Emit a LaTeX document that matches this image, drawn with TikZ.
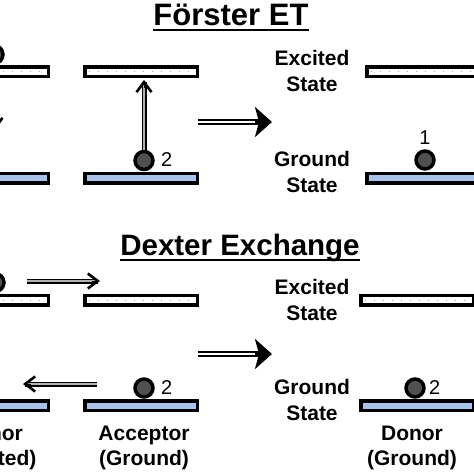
\documentclass[tikz,border=0pt]{standalone}
\usepackage{fontspec}
\setmainfont{Liberation Sans}
\usetikzlibrary{arrows.meta,calc}
\definecolor{gblue}{RGB}{168,194,234}
\definecolor{edark}{RGB}{80,80,80}
\newcommand\grayarrow[2]{%
  \draw[line width=5pt,shorten >=2pt] (#1) -- (#2);
  \draw[line width=2.2pt,gray!60,shorten >=2pt] (#1) -- (#2);
  \draw[line width=0.1pt,-{Straight Barb[length=10pt,width=15pt,line width=2.6pt]}] ($(#2)!8pt!(#1)$) -- (#2);}
\newcommand\bigarrow[2]{%
  \draw[line width=5.5pt,-{Stealth[length=17pt,width=30pt,inset=4pt]}] (#1) -- (#2);
  \draw[white,line width=1.6pt,shorten >=17pt] (#1) -- (#2);}
\begin{document}
\begin{tikzpicture}[x=1pt,y=-1pt,
  lvl/.style={draw=black,line width=3.5pt,minimum height=9.5pt,minimum width=112.5pt,inner sep=0pt,rectangle},
  exlvl/.style={lvl,fill=white},
  gdlvl/.style={lvl,fill=gblue},
  dots/.style={gray!70,line width=1pt,dash pattern=on 1pt off 8pt},
  elec/.style={circle,draw=black,line width=3.5pt,fill=edark,minimum size=18pt,inner sep=0pt},
  lab/.style={font=\bfseries\fontsize{21}{26}\selectfont,inner sep=0pt,anchor=base},
  num/.style={font=\fontsize{20}{22}\selectfont,inner sep=0pt,anchor=base},
  ttl/.style={font=\bfseries\fontsize{31}{34}\selectfont,inner sep=0pt,anchor=base},
  ttlb/.style={font=\bfseries\fontsize{29.5}{34}\selectfont,inner sep=0pt,anchor=base}]
\useasboundingbox (0,0) rectangle (474,474);
\clip (0,0) rectangle (474,474);

% ---------- Forster ET ----------
\node[ttl] (t1) at (231,25) {Förster ET};
\draw[line width=2.5pt] ($(t1.base west)+(0,5)$) -- ($(t1.base east)+(0,5)$);

\node[exlvl] (e0) at (-8,71.5) {};
\node[gdlvl] (g0) at (-8,178) {};
\node[exlvl] (e1) at (141,71.5) {};
\node[gdlvl] (g1) at (141,178) {};
\node[exlvl] (e2) at (423,71.5) {};
\node[gdlvl] (g2) at (423,178) {};
\foreach \n in {e0,e1,e2}{\draw[dots] ($(\n.west)+(6,0)$) -- ($(\n.east)+(-4,0)$);}

\node[elec] (c0) at (-6,54.5) {};
\node[elec] (c1) at (144,160.5) {};
\node[num,anchor=base west] (n1) at (161,166) {2};
\node[elec] (c2) at (425,160) {};
\node[num] (n2) at (425,144) {1};

\coordinate (d0a) at (-5,84);
\coordinate (d0b) at (-5,130);
\grayarrow{d0a}{d0b}
\coordinate (v1) at (144,80);
\grayarrow{c1.north}{v1}

\coordinate (fa1) at (198,122);
\coordinate (fa2) at (272,122);
\bigarrow{fa1}{fa2}

\node[lab] (x1) at (312,65) {Excited};
\node[lab] (x2) at (312,91.5) {State};
\node[lab] (x3) at (312,166) {Ground};
\node[lab] (x4) at (312,192) {State};

% ---------- Dexter Exchange ----------
\node[ttlb] (t2) at (240,255) {Dexter Exchange};
\draw[line width=2.5pt] ($(t2.base west)+(0,5)$) -- ($(t2.base east)+(0,5)$);

\node[exlvl] (e3) at (-8,300) {};
\node[gdlvl] (g3) at (-8,405.5) {};
\node[exlvl] (e4) at (141,300) {};
\node[gdlvl] (g4) at (141,405.5) {};
\node[exlvl] (e5) at (417,300) {};
\node[gdlvl] (g5) at (417,405.5) {};
\foreach \n in {e3,e4,e5}{\draw[dots] ($(\n.west)+(6,0)$) -- ($(\n.east)+(-4,0)$);}

\node[elec] (c3) at (-5,282.5) {};
\node[elec] (c4) at (144,388) {};
\node[num,anchor=base west] (n4) at (161,394) {2};
\node[elec] (c5) at (415,388) {};
\node[num,anchor=base west] (n5) at (429,394) {2};

\coordinate (h1) at (27,281);
\coordinate (h2) at (100,281);
\grayarrow{h1}{h2}
\coordinate (h3) at (97,384);
\coordinate (h4) at (23,384);
\grayarrow{h3}{h4}

\coordinate (fb1) at (198,354);
\coordinate (fb2) at (272,354);
\bigarrow{fb1}{fb2}

\node[lab] (y1) at (312,294) {Excited};
\node[lab] (y2) at (312,320) {State};
\node[lab] (y3) at (312,394) {Ground};
\node[lab] (y4) at (312,420) {State};

\node[lab] (l1) at (-8,440) {Donor};
\node[lab] (l2) at (-8,465) {(Excited)};
\node[lab] (l3) at (144,440) {Acceptor};
\node[lab] (l4) at (144,465) {(Ground)};
\node[lab] (l5) at (412,440) {Donor};
\node[lab] (l6) at (412,465) {(Ground)};
\end{tikzpicture}
\end{document}
